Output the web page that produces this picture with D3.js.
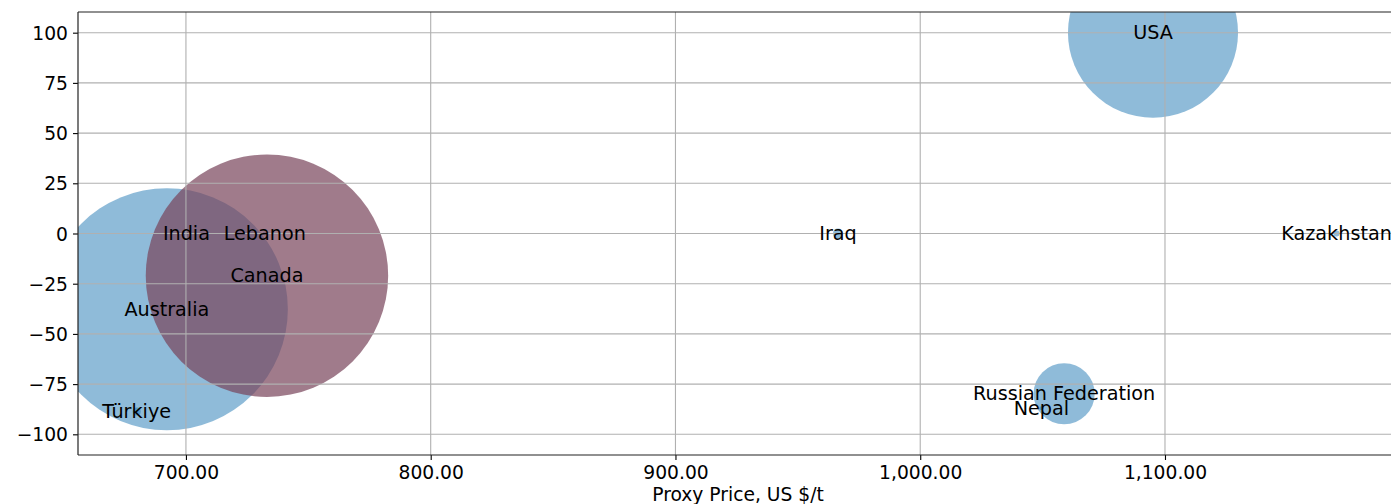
<!DOCTYPE html>
<html>
<head>
<meta charset="utf-8">
<script src="https://cdn.jsdelivr.net/npm/d3@7"></script>
<style>
  html, body { margin: 0; padding: 0; background: #fff; overflow: hidden; }
  svg { display: block; font-family: "DejaVu Sans", sans-serif; }
</style>
</head>
<body>
<svg id="chart" width="1391" height="504"></svg>
<script>
// ---- data ----
const countries = ["Australia", "India", "Lebanon", "Nepal", "Türkiye", "Iraq", "Kazakhstan", "Russian Federation", "USA", "Canada"];
const proxyPrice = [692.2, 700.2, 732.2, 1049.5, 679.9, 966.4, 1170.1, 1058.8, 1095.1, 733.1];
const changeValue = [-37.7, 0, 0, -87, -88.6, 0, 0, -79.8, 100, -21.0];
const volume = [1460, 0.4, 0.4, 0.4, 1.6, 2.5, 0.9, 93, 721, 1465];
const xTicks = [700, 800, 900, 1000, 1100];
const yTicks = [-100, -75, -50, -25, 0, 25, 50, 75, 100];
const xLabel = "Proxy Price, US $/t";
const highlightCountry = "Canada";

// ---- layout ----
const L = 78, T = 12, R = 1398, B = 455;
const svg = d3.select("#chart");
const x = d3.scaleLinear().domain([655.9, 1195.2]).range([L, R]);
const y = d3.scaleLinear().domain([-110.3, 110.3]).range([B, T]);
const rScale = d3.scaleSqrt().domain([0, 1460]).range([0, 121]);
const FS = "18.7px";
const LFS = "19.2px";

const data = countries.map((c, i) => ({ c, px: proxyPrice[i], v: changeValue[i], vol: volume[i] }));

svg.append("defs").append("clipPath").attr("id", "clip")
  .append("rect").attr("x", L).attr("y", T).attr("width", R - L).attr("height", B - T);

// bubbles
svg.append("g").attr("clip-path", "url(#clip)")
  .selectAll("circle").data(data).enter().append("circle")
  .attr("cx", d => x(d.px))
  .attr("cy", d => y(d.v))
  .attr("r", d => rScale(d.vol))
  .attr("fill", d => d.c === highlightCountry ? "rgb(120,67,90)" : "#1f77b4")
  .attr("fill-opacity", d => d.c === highlightCountry ? 0.7 : 0.5);

// grid (above bubbles, as in reference)
const grid = svg.append("g").attr("clip-path", "url(#clip)");
grid.selectAll("line.gx").data(xTicks).enter().append("line")
  .attr("x1", d => x(d)).attr("x2", d => x(d)).attr("y1", T).attr("y2", B)
  .attr("stroke", "#b0b0b0").attr("stroke-width", 1.1);
grid.selectAll("line.gy").data(yTicks).enter().append("line")
  .attr("x1", L).attr("x2", R).attr("y1", d => y(d)).attr("y2", d => y(d))
  .attr("stroke", "#b0b0b0").attr("stroke-width", 1.1);

// axes
const fmtX = d3.format(",.2f");
const xAxis = d3.axisBottom(x).tickValues(xTicks).tickFormat(fmtX).tickSize(5).tickPadding(6);
const yAxis = d3.axisLeft(y).tickValues(yTicks).tickFormat(d => String(d).replace("-", "\u2212")).tickSize(5).tickPadding(5);

const gx = svg.append("g").attr("transform", `translate(0,${B})`).call(xAxis);
const gy = svg.append("g").attr("transform", `translate(${L},0)`).call(yAxis);
[gx, gy].forEach(g => {
  g.select(".domain").remove();
  g.selectAll(".tick line").attr("stroke", "#000").attr("stroke-width", 1.1);
  g.selectAll(".tick text").attr("fill", "#000").style("font-size", FS).style("font-family", "DejaVu Sans");
});
gy.selectAll(".tick text").attr("dy", "0.35em");

// spines
const sp = svg.append("g").attr("stroke", "#222").attr("stroke-width", 1.2).attr("fill", "none");
sp.append("line").attr("x1", L).attr("x2", L).attr("y1", T).attr("y2", B);
sp.append("line").attr("x1", L).attr("x2", R).attr("y1", B).attr("y2", B);
sp.append("line").attr("x1", L).attr("x2", R).attr("y1", T).attr("y2", T);
sp.append("line").attr("x1", R).attr("x2", R).attr("y1", T).attr("y2", B);

// labels
svg.append("g").selectAll("text").data(data).enter().append("text")
  .attr("x", d => x(d.px))
  .attr("y", d => y(d.v))
  .attr("dy", "0.33em")
  .attr("text-anchor", "middle")
  .style("font-size", LFS)
  .attr("fill", "#000")
  .text(d => d.c);

// x axis label
svg.append("text")
  .attr("x", (L + R) / 2)
  .attr("y", 501)
  .attr("text-anchor", "middle")
  .style("font-size", FS)
  .attr("fill", "#000")
  .text(xLabel);
</script>
</body>
</html>
